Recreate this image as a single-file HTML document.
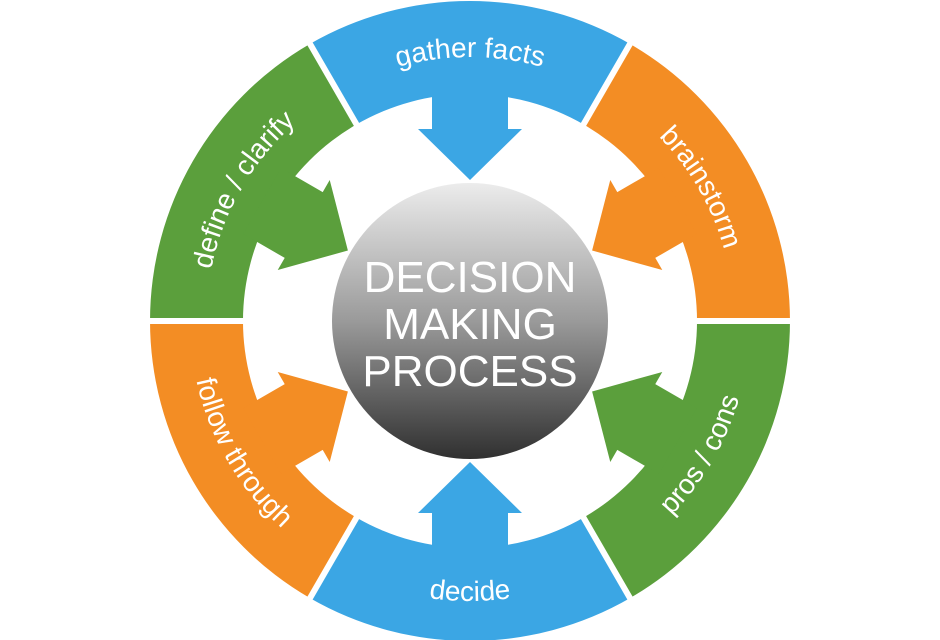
<!DOCTYPE html>
<html><head><meta charset="utf-8"><style>
html,body{margin:0;padding:0;background:#fff;width:940px;height:640px;overflow:hidden}
svg{display:block}
text{font-family:"Liberation Sans",sans-serif;fill:#fff}
</style></head><body>
<svg width="940" height="640" viewBox="0 0 940 640" xmlns="http://www.w3.org/2000/svg">
<defs>
<linearGradient id="sph" x1="0" y1="0" x2="0" y2="1">
<stop offset="0" stop-color="#ececec"/>
<stop offset="0.5" stop-color="#9a9a9a"/>
<stop offset="1" stop-color="#303030"/>
</linearGradient>
<path id="seg" d="M-160,-277.1 A320 320 0 0 1 160,-277.1 L113.5,-196.6 A227 227 0 0 0 -113.5,-196.6 Z"/>
<polygon id="arr" points="-38,-240 38,-240 38,-192 52,-192 0,-141 -52,-192 -38,-192"/>
<path id="tArc" d="M-132,-228.6 A264 264 0 0 1 132,-228.6"/>
<path id="bArc" d="M-242.5,140 A280 280 0 0 0 242.5,140"/>
</defs>
<g transform="translate(470,321)">
<g fill="#3ba6e4"><use href="#seg"/><use href="#arr"/></g>
<g transform="rotate(60)" fill="#f38d24"><use href="#seg"/><use href="#arr"/></g>
<g transform="rotate(120)" fill="#5b9f3c"><use href="#seg"/><use href="#arr"/></g>
<g transform="rotate(180)" fill="#3ba6e4"><use href="#seg"/><use href="#arr"/></g>
<g transform="rotate(240)" fill="#f38d24"><use href="#seg"/><use href="#arr"/></g>
<g transform="rotate(300)" fill="#5b9f3c"><use href="#seg"/><use href="#arr"/></g>
<g stroke="#fff" stroke-width="6">
<line x1="0" y1="0" x2="-335" y2="0"/>
<line x1="0" y1="0" x2="335" y2="0"/>
<line x1="0" y1="0" x2="-335" y2="0" transform="rotate(60)"/>
<line x1="0" y1="0" x2="335" y2="0" transform="rotate(60)"/>
<line x1="0" y1="0" x2="-335" y2="0" transform="rotate(120)"/>
<line x1="0" y1="0" x2="335" y2="0" transform="rotate(120)"/>
</g>
<circle r="138" fill="url(#sph)"/>
<g font-size="28">
<text><textPath href="#tArc" startOffset="50%" text-anchor="middle">gather facts</textPath></text>
<g transform="rotate(60)"><text><textPath href="#tArc" startOffset="50%" text-anchor="middle">brainstorm</textPath></text></g>
<g transform="rotate(-60)"><text><textPath href="#tArc" startOffset="50%" text-anchor="middle">define / clarify</textPath></text></g>
<text><textPath href="#bArc" startOffset="50%" text-anchor="middle">decide</textPath></text>
<g transform="rotate(60)"><text><textPath href="#bArc" startOffset="50%" text-anchor="middle">follow through</textPath></text></g>
<g transform="rotate(-60)"><text><textPath href="#bArc" startOffset="50%" text-anchor="middle">pros / cons</textPath></text></g>
</g>
<g font-size="44" text-anchor="middle">
<text x="0" y="-29">DECISION</text>
<text x="0" y="18">MAKING</text>
<text x="0" y="65">PROCESS</text>
</g>
</g>
</svg>
</body></html>
